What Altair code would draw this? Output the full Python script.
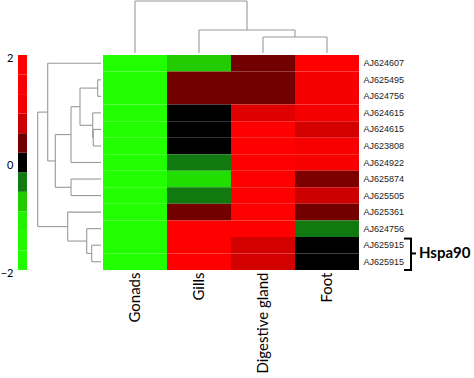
import altair as alt
import pandas as pd

# ---------------- data ----------------
tissues = ["Gonads", "Gills", "Digestive gland", "Foot"]
genes = ["AJ624607", "AJ625495", "AJ624756", "AJ624615", "AJ624615", "AJ623808",
         "AJ624922", "AJ625874", "AJ625505", "AJ625361", "AJ624756", "AJ625915",
         "AJ625915"]
gonads = [-2, -2, -2, -2, -2, -2, -2, -2, -2, -2, -2, -2, -2]
gills = [-0.73, 0.36, 0.36, 0, 0, 0, -0.36, -0.9, -0.36, 0.36, 2, 2, 2]
digestive = [0.36, 0.36, 0.36, 0.91, 2, 2, 2, 2, 2, 2, 2, 0.8, 0.8]
foot = [2, 1.3, 1.3, 1.3, 0.8, 1.4, 1.4, 0.4, 0.73, 0.36, -0.36, 0, 0]

# row dendrogram (linkage: merge k creates cluster n+k)
row_merge_left = [1, 4, 3, 13, 16, 7, 17, 0, 11, 10, 9, 20]
row_merge_right = [2, 5, 14, 15, 6, 8, 18, 19, 12, 21, 22, 23]
row_merge_height = [3.3, 7.7, 8.3, 21.0, 30.0, 30.0, 45.7, 53.3, 9.3, 14.3, 33.3, 63.3]

# column dendrogram
col_merge_left = [2, 1, 0]
col_merge_right = [3, 4, 5]
col_merge_height = [16, 23, 52]

# colour scale
color_domain = [-2, -1.09, -0.73, -0.36, 0, 0.36, 0.73, 1.09, 2]
color_range = ["#22ff00", "#22f200", "#22cc00", "#107a10", "#000000",
               "#720000", "#cc0000", "#f20000", "#ff0000"]
legend_ticks = [-2, 0, 2]
legend_bands = 11

hspa_label = "Hspa90"
hspa_rows = [11, 12]

# ---------------- tables ----------------
series = {"Gonads": gonads, "Gills": gills, "Digestive gland": digestive, "Foot": foot}
heat_rows = []
for t in tissues:
    for i, v in enumerate(series[t]):
        heat_rows.append({"row": i, "gene": genes[i], "tissue": t, "value": v})
heat_df = pd.DataFrame(heat_rows)


def dendro_segments(n, lefts, rights, heights):
    pos = {i: float(i) for i in range(n)}
    hgt = {i: 0.0 for i in range(n)}
    segs = []
    for k, (a, b, h) in enumerate(zip(lefts, rights, heights)):
        segs.append({"h1": h, "h2": h, "p1": pos[a], "p2": pos[b]})
        segs.append({"h1": hgt[a], "h2": h, "p1": pos[a], "p2": pos[a]})
        segs.append({"h1": hgt[b], "h2": h, "p1": pos[b], "p2": pos[b]})
        pos[n + k] = (pos[a] + pos[b]) / 2
        hgt[n + k] = h
    return pd.DataFrame(segs)


row_seg = dendro_segments(len(genes), row_merge_left, row_merge_right, row_merge_height)
col_seg = dendro_segments(len(tissues), col_merge_left, col_merge_right, col_merge_height)

step = 4 / legend_bands
legend_df = pd.DataFrame({
    "lo": [-2 + step * i for i in range(legend_bands)],
    "hi": [-2 + step * (i + 1) for i in range(legend_bands)],
})
legend_df["mid"] = ((legend_df["lo"] + legend_df["hi"]) / 2).round(6)

color_scale = alt.Scale(domain=color_domain, range=color_range, type="linear",
                        clamp=True, interpolate="rgb")

HEAT_W, HEAT_H = 256, 215
DEN_W, TOP_H, LEG_W = 72, 52, 9
LINE = "#999999"

# ---------------- charts ----------------
def blank(w, h):
    return alt.Chart(pd.DataFrame({"a": [0]})).mark_point(opacity=0, size=1).encode(
        x=alt.value(w / 2), y=alt.value(h / 2)
    ).properties(width=w, height=h)


top_dendro = alt.Chart(col_seg).mark_rule(color=LINE, strokeWidth=1.1).encode(
    x=alt.X("p1:Q", scale=alt.Scale(domain=[-0.5, len(tissues) - 0.5], nice=False, zero=False), axis=None),
    x2="p2",
    y=alt.Y("h1:Q", scale=alt.Scale(domain=[0, TOP_H], nice=False), axis=None),
    y2="h2",
).properties(width=HEAT_W, height=TOP_H)

left_dendro = alt.Chart(row_seg).mark_rule(color=LINE, strokeWidth=1.1).encode(
    x=alt.X("h1:Q", scale=alt.Scale(domain=[0, DEN_W], reverse=True, nice=False), axis=None),
    x2="h2",
    y=alt.Y("p1:Q", scale=alt.Scale(domain=[-0.5, len(genes) - 0.5], reverse=True, nice=False, zero=False), axis=None),
    y2="p2",
).properties(width=DEN_W, height=HEAT_H)

legend = alt.Chart(legend_df).mark_rect().encode(
    x=alt.value(0), x2=alt.value(LEG_W),
    y=alt.Y("lo:Q", scale=alt.Scale(domain=[-2, 2], nice=False),
            axis=alt.Axis(values=legend_ticks, orient="left", ticks=False, domain=False, grid=False,
                          labelPadding=5, labelFont="Lato", labelFontSize=11, labelColor="black",
                          labelOffset=3, title=None)),
    y2="hi",
    color=alt.Color("mid:Q", scale=color_scale, legend=None),
).properties(width=LEG_W, height=HEAT_H)

label_expr = "[" + ",".join("'" + g + "'" for g in genes) + "][datum.value]"

heat = alt.Chart(heat_df).mark_rect().encode(
    x=alt.X("tissue:N", sort=tissues,
            axis=alt.Axis(orient="bottom", labelAngle=270, ticks=False, domain=False, labelPadding=2,
                          labelFont="Lato", labelFontSize=15, labelColor="black", title=None)),
    y=alt.Y("row:O",
            axis=alt.Axis(orient="right", labelExpr=label_expr, ticks=False, domain=False, labelPadding=4,
                          labelFont="Liberation Sans", labelFontSize=9, labelColor="#222222",
                          labelOverlap=False, title=None)),
    color=alt.Color("value:Q", scale=color_scale, legend=None),
)

br_df = pd.DataFrame({"row": [hspa_rows[0]], "row_end": [hspa_rows[1]], "label": [hspa_label]})
br = alt.Chart(br_df)
br_vert = br.mark_rule(color="black", strokeWidth=2).encode(
    x=alt.value(308),
    y=alt.Y("row:O", bandPosition=0.1),
    y2=alt.Y2("row_end", bandPosition=1),
)
br_top = br.mark_rule(color="black", strokeWidth=2).encode(
    x=alt.value(301), x2=alt.value(309), y=alt.Y("row:O", bandPosition=0.1))
br_bot = br.mark_rule(color="black", strokeWidth=2).encode(
    x=alt.value(301), x2=alt.value(309), y=alt.Y("row_end:O", bandPosition=1))
br_mid = br.mark_rule(color="black", strokeWidth=2).encode(
    x=alt.value(308), x2=alt.value(313), y=alt.Y("row_end:O", bandPosition=0))
br_text = br.mark_text(align="left", baseline="middle", font="Lato", fontSize=15,
                       fontWeight="bold", color="black").encode(
    x=alt.value(316), y=alt.Y("row_end:O", bandPosition=0), text="label:N")

heat_layer = alt.layer(heat, br_vert, br_top, br_bot, br_mid, br_text).properties(
    width=HEAT_W, height=HEAT_H)

chart = alt.concat(
    blank(LEG_W, TOP_H), blank(DEN_W, TOP_H), top_dendro,
    legend, left_dendro, heat_layer,
    columns=3, bounds="flush", align="each",
    spacing={"row": 2, "column": 2},
).properties(
    padding={"left": 0, "top": 0, "right": 0, "bottom": 0},
    background="white",
).configure_view(stroke=None)

chart.save("out.html", embed_options={"renderer": "svg", "actions": False})
